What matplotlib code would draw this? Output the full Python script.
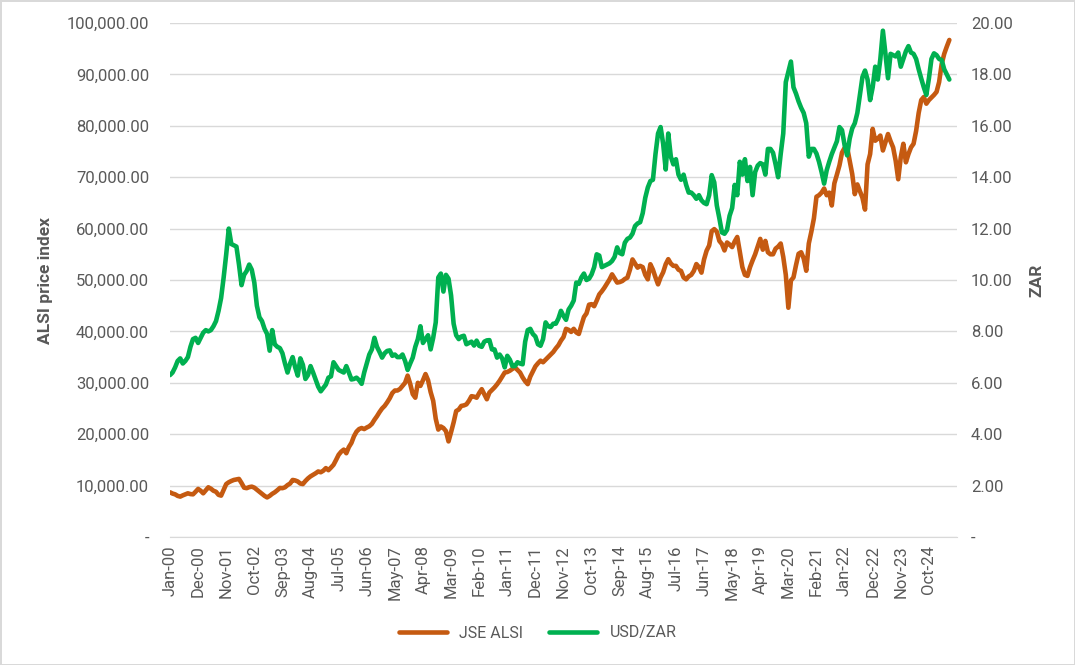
import numpy as np
import pandas as pd
import matplotlib
matplotlib.use('Agg')
import matplotlib.pyplot as plt
from matplotlib.ticker import FuncFormatter

# monthly data Jan-2000 .. Jun-2025
alsi = [
    8.70, 8.45, 8.30, 8.00, 7.86, 8.10, 8.30, 8.50, 8.35, 8.30, 8.80, 9.35,
    9.00, 8.50, 9.10, 9.67, 9.40, 9.00, 8.80, 8.20, 8.05, 9.20, 10.30, 10.65,
    10.90, 11.10, 11.20, 11.30, 10.50, 9.60, 9.50, 9.70, 9.80, 9.60, 9.20, 8.80,
    8.40, 8.00, 7.70, 8.00, 8.40, 8.70, 9.10, 9.54, 9.50, 9.67, 10.10, 10.40,
    11.10, 11.00, 10.80, 10.40, 10.30, 10.90, 11.40, 11.80, 12.10, 12.40, 12.75, 12.60,
    12.90, 13.40, 13.00, 13.50, 14.05, 15.00, 16.00, 16.60, 17.00, 16.30, 17.50, 18.30,
    19.60, 20.50, 21.00, 21.20, 21.00, 21.30, 21.55, 22.00, 22.80, 23.50, 24.30, 25.00,
    25.50, 26.20, 27.00, 28.00, 28.50, 28.50, 28.80, 29.40, 30.00, 31.40, 29.80, 27.80,
    27.10, 30.00, 29.40, 30.50, 31.70, 30.50, 28.20, 26.50, 23.00, 20.90, 21.50, 21.20,
    20.60, 18.60, 20.40, 22.30, 24.50, 24.80, 25.50, 25.60, 25.80, 26.50, 27.40, 27.30,
    27.10, 28.00, 28.76, 27.80, 26.80, 28.10, 28.60, 29.10, 29.70, 30.40, 31.20, 32.00,
    32.10, 32.35, 32.70, 33.00, 32.50, 32.00, 31.05, 30.30, 29.74, 31.20, 32.20, 33.20,
    33.80, 34.30, 34.00, 34.50, 35.00, 35.50, 36.00, 36.70, 37.30, 38.20, 38.90, 40.50,
    40.30, 39.90, 40.50, 39.80, 39.50, 41.20, 42.80, 43.50, 45.20, 45.30, 44.90, 46.00,
    47.20, 47.80, 48.50, 49.30, 50.10, 51.10, 50.30, 49.50, 49.60, 49.80, 50.20, 50.45,
    52.00, 54.00, 53.20, 52.40, 52.75, 52.50, 51.00, 50.13, 53.07, 52.00, 50.50, 49.15,
    50.50, 51.50, 53.07, 54.05, 53.20, 52.75, 52.75, 52.00, 51.76, 50.50, 50.13, 50.70,
    51.00, 51.76, 53.10, 52.50, 51.43, 54.00, 55.70, 56.70, 59.50, 59.90, 59.40, 57.60,
    57.00, 55.75, 57.30, 56.90, 56.40, 57.50, 58.37, 55.50, 52.50, 51.00, 50.80, 52.50,
    53.80, 55.00, 56.50, 58.00, 55.90, 57.60, 55.40, 55.00, 55.00, 56.10, 56.50, 57.10,
    54.50, 51.00, 44.60, 49.90, 50.50, 52.90, 55.10, 55.40, 54.20, 51.80, 57.10, 59.40,
    62.00, 66.20, 66.50, 67.00, 67.80, 66.50, 67.00, 64.50, 68.80, 70.50, 72.30, 74.80,
    75.70, 75.80, 73.20, 70.60, 66.70, 68.60, 67.30, 66.00, 63.70, 72.50, 74.50, 79.40,
    77.10, 77.50, 78.10, 75.20, 76.80, 78.40, 77.00, 75.80, 73.20, 69.60, 73.90, 76.50,
    72.90, 74.50, 75.80, 76.50, 79.00, 82.50, 85.00, 85.60, 84.30, 85.00, 85.50, 86.00,
    86.60, 88.50, 92.00, 94.00, 95.40, 96.70,
]
alsi = [v * 1000 for v in alsi]

usd_zar = [
    6.30, 6.40, 6.60, 6.85, 6.95, 6.75, 6.85, 7.00, 7.40, 7.70, 7.75, 7.55,
    7.75, 7.95, 8.05, 8.00, 8.05, 8.20, 8.40, 8.80, 9.30, 10.10, 11.00, 12.00,
    11.40, 11.35, 11.30, 10.60, 9.80, 10.20, 10.35, 10.60, 10.40, 9.90, 9.00, 8.55,
    8.40, 8.10, 7.90, 7.25, 8.05, 7.50, 7.40, 7.35, 7.15, 6.75, 6.40, 6.75,
    7.00, 6.60, 6.28, 6.95, 6.70, 6.15, 6.30, 6.65, 6.40, 6.13, 5.85, 5.67,
    5.80, 5.93, 6.20, 6.25, 6.80, 6.65, 6.50, 6.45, 6.40, 6.65, 6.40, 6.13,
    6.15, 6.20, 6.10, 5.96, 6.40, 6.75, 7.10, 7.30, 7.75, 7.40, 7.20, 6.98,
    7.15, 7.24, 7.26, 7.05, 7.10, 7.00, 7.00, 7.10, 6.85, 6.50, 6.75, 6.98,
    7.40, 7.70, 8.20, 7.55, 7.70, 7.85, 7.30, 7.75, 8.35, 10.10, 10.25, 9.55,
    10.20, 10.05, 9.40, 8.30, 7.85, 7.70, 7.80, 7.83, 7.50, 7.55, 7.60, 7.45,
    7.64, 7.44, 7.40, 7.60, 7.65, 7.66, 7.30, 7.30, 6.98, 7.10, 6.95, 6.60,
    7.05, 6.90, 6.65, 6.65, 6.80, 6.75, 6.72, 7.60, 8.05, 8.10, 7.90, 7.80,
    7.50, 7.44, 7.70, 8.35, 8.20, 8.17, 8.30, 8.30, 8.50, 8.80, 8.60, 8.45,
    8.85, 9.00, 9.20, 9.90, 9.85, 10.10, 10.25, 10.00, 10.05, 10.22, 10.50, 11.00,
    10.95, 10.50, 10.55, 10.60, 10.65, 10.74, 10.90, 11.27, 11.05, 11.00, 11.45, 11.60,
    11.65, 11.80, 12.10, 12.20, 12.25, 12.60, 13.20, 13.60, 13.85, 13.90, 14.90, 15.70,
    15.95, 15.30, 14.30, 15.70, 14.80, 14.50, 14.70, 14.10, 13.90, 14.10, 13.70, 13.40,
    13.40, 13.30, 13.16, 13.30, 13.10, 13.00, 12.95, 13.30, 14.08, 13.80, 12.90, 12.40,
    11.85, 11.80, 11.95, 12.50, 12.80, 13.70, 13.30, 14.60, 14.10, 14.70, 13.85, 14.40,
    13.30, 14.20, 14.45, 14.55, 14.50, 14.10, 15.10, 15.10, 14.95, 14.50, 14.00, 14.90,
    15.70, 17.70, 18.10, 18.50, 17.50, 17.25, 16.95, 16.70, 16.50, 16.10, 14.80, 15.10,
    15.10, 14.92, 14.60, 14.20, 13.75, 14.27, 14.60, 14.90, 15.15, 15.40, 15.95, 15.83,
    15.25, 14.85, 15.50, 15.90, 16.10, 16.50, 17.20, 17.90, 18.15, 17.80, 17.00, 17.50,
    18.30, 17.80, 18.60, 19.70, 18.80, 17.85, 18.80, 18.75, 18.70, 18.85, 18.30, 18.60,
    18.90, 19.10, 18.85, 18.80, 18.60, 18.20, 17.84, 17.50, 17.20, 17.84, 18.60, 18.82,
    18.75, 18.60, 18.56, 18.20, 18.00, 17.80,
]

months = pd.date_range('2000-01-01', periods=len(alsi), freq='MS')
tick_step = 11

orange = '#C55A11'
green = '#00B050'
grey_text = '#595959'
grid_col = '#D9D9D9'

plt.rcParams['font.family'] = ['Roboto', 'DejaVu Sans']

fig = plt.figure(figsize=(10.75, 6.65), dpi=100, edgecolor=grid_col, linewidth=2)
ax = fig.add_axes([170 / 1075, 1 - 537 / 665, (957 - 170) / 1075, (537 - 23) / 665])
ax2 = ax.twinx()

x = np.arange(len(alsi))
l1, = ax.plot(x, alsi, color=orange, lw=3.3, solid_capstyle='round', label='JSE ALSI')
l2, = ax2.plot(x, usd_zar, color=green, lw=3.3, solid_capstyle='round', label='USD/ZAR')

ax.set_xlim(0, 308)
ax.set_ylim(0, 100000)
ax2.set_ylim(0, 20)
ax.set_yticks(np.arange(0, 100001, 10000))
ax2.set_yticks(np.arange(0, 21, 2))


def fmt_left(v, pos):
    return '-' if v == 0 else '{:,.2f}'.format(v)


def fmt_right(v, pos):
    return '-' if v == 0 else '{:.2f}'.format(v)


ax.yaxis.set_major_formatter(FuncFormatter(fmt_left))
ax2.yaxis.set_major_formatter(FuncFormatter(fmt_right))

ticks = x[::tick_step]
ax.set_xticks(ticks)
ax.set_xticklabels([months[i].strftime('%b-%y') for i in ticks], rotation=90)

ax.grid(axis='y', color=grid_col, lw=1)
ax.set_axisbelow(True)
for a in (ax, ax2):
    for s in a.spines.values():
        s.set_visible(False)
    a.tick_params(length=0, labelsize=12, colors=grey_text)
ax.tick_params(axis='y', pad=15)
ax2.tick_params(axis='y', pad=10)
ax.tick_params(axis='x', pad=6)
ax.spines['bottom'].set_visible(True)
ax.spines['bottom'].set_color(grid_col)

ax.set_ylabel('ALSI price index', fontsize=12.5, fontweight='bold', color=grey_text, labelpad=10)
ax2.set_ylabel('ZAR', fontsize=12.5, fontweight='bold', color=grey_text, rotation=90, labelpad=12)

fig.legend(handles=[l1, l2], loc='center', bbox_to_anchor=(0.5, 1 - 633 / 665), ncol=2,
           frameon=False, fontsize=11.5, labelcolor=grey_text, handlelength=3.0, columnspacing=1.6)

fig.savefig('out.png', dpi=100)
